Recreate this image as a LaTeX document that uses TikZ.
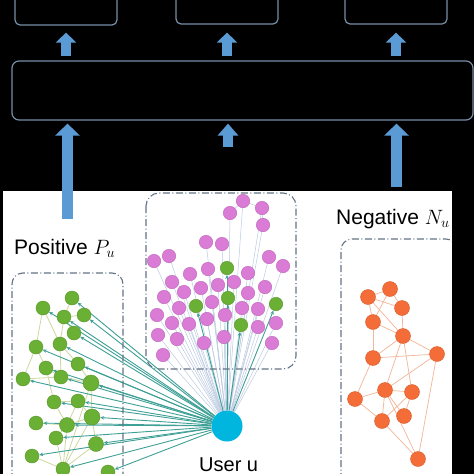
\documentclass[tikz,border=0pt]{standalone}
\usepackage{fontspec}
\setmainfont{Liberation Sans}
\usetikzlibrary{arrows.meta}
\definecolor{gfill}{RGB}{106,176,52}
\definecolor{gdraw}{RGB}{88,150,40}
\definecolor{pfill}{RGB}{218,124,214}
\definecolor{pdraw}{RGB}{190,100,186}
\definecolor{ofill}{RGB}{244,108,56}
\definecolor{odraw}{RGB}{215,90,40}
\definecolor{cyanc}{RGB}{0,182,222}
\definecolor{tealc}{RGB}{62,160,150}
\definecolor{olivec}{RGB}{205,216,160}
\definecolor{lbluec}{RGB}{188,202,226}
\definecolor{lorange}{RGB}{242,182,152}
\definecolor{boxc}{RGB}{118,142,166}
\definecolor{dashc}{RGB}{100,116,136}
\definecolor{arrowblue}{RGB}{91,155,213}
\pgfdeclarelayer{edges}
\pgfsetlayers{edges,main}
\begin{document}
\begin{tikzpicture}[x=1pt,y=-1pt,
  gnode/.style={circle, fill=gfill, draw=gdraw, line width=0.4pt, minimum size=14pt, inner sep=0pt},
  gbig/.style={gnode, minimum size=16pt},
  pnode/.style={circle, fill=pfill, draw=pdraw, line width=0.4pt, minimum size=13.5pt, inner sep=0pt},
  onode/.style={circle, fill=ofill, draw=odraw, line width=0.4pt, minimum size=15pt, inner sep=0pt},
  usernode/.style={circle, fill=cyanc, minimum size=31pt, inner sep=0pt},
  tealedge/.style={draw=tealc, line width=0.9pt, -{Stealth[length=4pt 0 0,width=3.5pt 0 0]}},
  oliveedge/.style={draw=olivec, line width=0.8pt},
  pedge/.style={draw=lbluec, line width=0.5pt},
  oedge/.style={draw=lorange, line width=0.7pt},
  topbox/.style={draw=boxc, line width=1.2pt, rounded corners=5pt, minimum width=102pt, minimum height=40pt, inner sep=0pt},
  bigbox/.style={draw=boxc, line width=1.2pt, rounded corners=7pt, minimum width=461pt, minimum height=59pt, inner sep=0pt},
  smallarrow/.style={arrowblue, line width=10pt, -{Triangle[length=10pt 0 0,width=20pt 0 0]}},
  bigarrow/.style={arrowblue, line width=11pt, -{Triangle[length=12pt 0 0,width=24pt 0 0]}},
  midarrow/.style={arrowblue, line width=10pt, -{Triangle[length=12pt 0 0,width=20pt 0 0]}},
  ddbox/.style={draw=dashc, line width=1.1pt, rounded corners=11pt, dash pattern=on 7pt off 2.5pt on 1pt off 2.5pt},
  lbl/.style={inner sep=0pt, font=\fontsize{21}{25}\selectfont},
]
\useasboundingbox (0,0) rectangle (474,474);
\begin{pgfonlayer}{edges}
  \fill[black] (0,0) rectangle (474,474);
  \fill[white] (3,191) rectangle (452,474);
\end{pgfonlayer}

% top boxes
\node[topbox] (t1) at (66,5) {};
\node[topbox] (t2) at (227,4) {};
\node[topbox] (t3) at (396,4) {};
\node[bigbox] (mid) at (242.5,90.5) {};

% block arrows
\draw[smallarrow] ([yshift=4pt]mid.north -| t1.south) -- ([yshift=-7pt]t1.south);
\draw[smallarrow] ([yshift=4pt]mid.north -| t2.south) -- ([yshift=-8pt]t2.south);
\draw[smallarrow] ([yshift=4pt]mid.north -| t3.south) -- ([yshift=-8pt]t3.south);
\coordinate (inL) at (67.5,219);
\coordinate (inM) at (228,147);
\coordinate (inR) at (396.5,187);
\draw[bigarrow] (inL) -- ([yshift=-3pt]mid.south -| inL);
\draw[midarrow] (inM) -- ([yshift=-3pt]mid.south -| inM);
\draw[bigarrow] (inR) -- ([yshift=-3pt]mid.south -| inR);

% dash-dot groups
\begin{scope}
  \clip (3,191) rectangle (452,474);
  \draw[ddbox] (12,480) -- (12,273) -- (123,273) -- (123,480);
  \draw[ddbox, rounded corners=13pt] (146,193) rectangle (296,369);
  \draw[ddbox] (341,480) -- (341,239) -- (457,239) -- (457,480);
  \node[lbl, anchor=base west] (neglbl) at (336,224) {Negative $N_u$};
\end{scope}
\node[lbl, anchor=base west] (poslbl) at (14,254) {Positive $P_u$};
\node[lbl, anchor=base west, font=\fontsize{20}{24}\selectfont] (usrlbl) at (199,471) {User u};

% user
\node[usernode] (user) at (227,426) {};

% positive graph
\node[gnode] (gA) at (72,298) {};
\node[gnode] (gB) at (43,308) {};
\node[gnode] (gC) at (64,317) {};
\node[gnode] (gD) at (84,315) {};
\node[gnode] (gE) at (74,333) {};
\node[gnode] (gF) at (60,344) {};
\node[gnode] (gG) at (36,347) {};
\node[gnode] (gH) at (46,368) {};
\node[gnode] (gI) at (78,364) {};
\node[gnode] (gJ) at (23,379) {};
\node[gnode] (gK) at (61,377) {};
\node[gbig] (gL) at (91,383) {};
\node[gnode] (gM) at (54,402) {};
\node[gnode] (gN) at (78,401) {};
\node[gbig] (gO) at (92,417) {};
\node[gnode] (gP) at (36,423) {};
\node[gnode, minimum size=15pt] (gQ) at (67,425) {};
\node[gnode] (gR) at (56,438) {};
\node[gnode, minimum size=15pt] (gS) at (96,444) {};
\node[gnode] (gT) at (32,456) {};
\node[gnode] (gU) at (63,469) {};
\node[gnode] (gV) at (108,472) {};

% purple group
\foreach \i/\x/\y in {1/243/201,2/230/213,3/262/208,4/263/225,5/206/242,6/222/244,
  7/154/261,8/169/256,9/269/257,10/283/266,11/208/269,12/190/274,13/248/273,
  14/172/282,15/184/292,16/201/288,17/218/285,18/234/282,19/265/287,20/248/293,
  21/164/297,22/179/308,23/212/302,24/242/308,25/258/309,26/157/315,27/172/323,
  28/189/324,29/207/319,30/225/315,31/258/327,32/276/323,33/158/335,34/177/339,
  35/204/343,36/224/337,37/272/343,38/163/355}
  \node[pnode] (p\i) at (\x,\y) {};
\node[gnode, minimum size=13.5pt] (q1) at (227,268) {};
\node[gnode, minimum size=13.5pt] (q2) at (228,298) {};
\node[gnode, minimum size=13.5pt] (q3) at (196,306) {};
\node[gnode, minimum size=13.5pt] (q4) at (241,325) {};
\node[gnode, minimum size=13.5pt] (q5) at (276,304) {};

% negative graph
\foreach \i/\x/\y in {1/368/297,2/390/289,3/402/308,4/373/322,5/403/336,6/373/358,
  7/437/354,8/385/390,9/412/392,10/355/399,11/382/421,12/404/416,13/418/459}
  \node[onode] (o\i) at (\x,\y) {};

\begin{pgfonlayer}{edges}
  % light lines to purple group
  \foreach \i in {1,...,38} \draw[pedge] (user) -- (p\i);
  \draw[pedge] (p1) -- (p2) (p1) -- (p3) (p3) -- (p4);
  % teal lines
  \foreach \n in {q1,q2,q3,q4,q5} \draw[tealedge] (user) -- (\n);
  % positive internal edges
  \foreach \a/\b in {gA/gC,gB/gG,gB/gF,gC/gF,gC/gE,gF/gI,gF/gK,gG/gJ,gG/gH,gH/gM,
    gH/gK,gK/gL,gI/gL,gL/gO,gL/gU,gM/gN,gM/gQ,gN/gO,gN/gQ,gO/gQ,gO/gS,gO/gU,
    gQ/gR,gQ/gU,gR/gU,gP/gQ,gT/gU,gS/gU,gJ/gK,gD/gC}
    \draw[oliveedge] (\a) -- (\b);
  \foreach \n in {gA,gB,gC,gD,gE,gF,gG,gH,gI,gJ,gK,gL,gM,gN,gO,gP,gQ,gR,gS,gT,gU,gV}
    \draw[tealedge] (user) -- (\n);
  % negative edges
  \foreach \a/\b in {1/2,1/4,1/3,2/3,2/4,1/5,3/5,4/5,4/6,5/6,5/7,6/7,5/8,5/9,6/10,
    7/8,7/13,8/9,8/10,8/11,8/12,9/11,9/12,10/11,11/13,8/13}
    \draw[oedge] (o\a) -- (o\b);
\end{pgfonlayer}
\end{tikzpicture}
\end{document}
